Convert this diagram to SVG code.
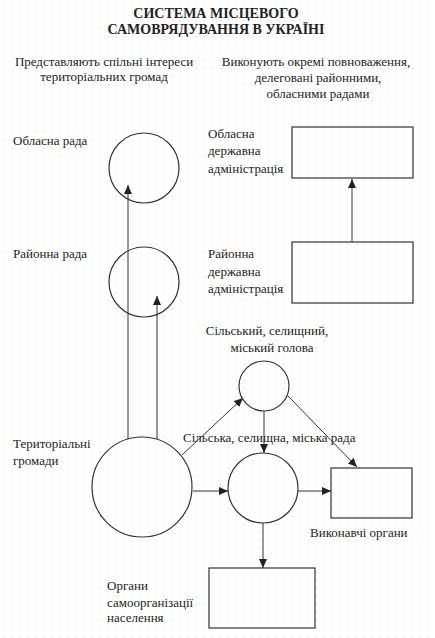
<svg xmlns="http://www.w3.org/2000/svg" width="435" height="638" viewBox="0 0 435 638">
<style>
text{font-family:"Liberation Serif","DejaVu Serif",serif;font-size:13px;fill:#222}
.t{font-weight:bold;font-size:14px;text-anchor:middle}
.m{text-anchor:middle}
.s{fill:none;stroke:#333;stroke-width:1.2}
.c{fill:none;stroke:#333;stroke-width:1}
</style>
<defs>
<pattern id="dots" width="8" height="8" patternUnits="userSpaceOnUse">
<rect x="4" y="4" width="1" height="1" fill="#d4d4d4"/>
</pattern>
<marker id="ah" markerWidth="10" markerHeight="8" refX="9" refY="4" orient="auto" markerUnits="userSpaceOnUse">
<path d="M0,0 L9,4 L0,8 Z" fill="#222"/>
</marker>
</defs>
<rect width="435" height="638" fill="#fff"/>
<rect width="435" height="638" fill="url(#dots)"/>

<g id="title">
<text class="t" x="216" y="18">СИСТЕМА МІСЦЕВОГО</text>
<text class="t" x="216" y="34">САМОВРЯДУВАННЯ В УКРАЇНІ</text>
</g>
<g id="header-left">
<text class="m" x="104" y="66">Представляють спільні інтереси</text>
<text class="m" x="104" y="81">територіальних громад</text>
</g>
<g id="header-right">
<text class="m" x="316" y="66">Виконують окремі повноваження,</text>
<text class="m" x="318" y="82">делеговані районними,</text>
<text class="m" x="318" y="98">обласними радами</text>
</g>

<g id="oblasna-rada">
<circle class="s" cx="144" cy="168" r="35"/>
<text x="13" y="145">Обласна рада</text>
</g>
<g id="raionna-rada">
<circle class="s" cx="144" cy="282" r="35"/>
<text x="13" y="258">Районна рада</text>
</g>
<g id="obl-admin">
<rect class="s" x="292" y="127" width="121" height="51"/>
<text x="208" y="138">Обласна</text>
<text x="208" y="155">державна</text>
<text x="208" y="173">адміністрація</text>
</g>
<g id="rai-admin">
<rect class="s" x="292" y="242" width="121" height="61"/>
<text x="208" y="258">Районна</text>
<text x="208" y="276">державна</text>
<text x="208" y="293">адміністрація</text>
</g>
<g id="holova">
<circle class="s" cx="264" cy="386" r="25"/>
<text class="m" x="267" y="335">Сільський, селищний,</text>
<text class="m" x="272" y="352">міський голова</text>
</g>
<g id="hromady">
<circle class="s" cx="142" cy="487" r="50"/>
<text x="13" y="448">Територіальні</text>
<text x="13" y="465">громади</text>
</g>
<g id="rada">
<circle class="s" cx="263" cy="488" r="35"/>
<text x="183" y="442">Сільська, селищна, міська рада</text>
</g>
<g id="vykonavchi">
<rect class="s" x="331" y="468" width="81" height="50"/>
<text x="310" y="537">Виконавчі органи</text>
</g>
<g id="samoorg">
<rect class="s" x="209" y="568" width="106" height="60"/>
<text x="107" y="590">Органи</text>
<text x="107" y="607">самоорганізації</text>
<text x="107" y="622">населення</text>
</g>

<g id="connectors">
<line class="c" x1="128" y1="439" x2="128" y2="185" marker-end="url(#ah)"/>
<line class="c" x1="157" y1="439" x2="157" y2="296" marker-end="url(#ah)"/>
<line class="c" x1="352" y1="242" x2="352" y2="179" marker-end="url(#ah)"/>
<line class="c" x1="182" y1="455" x2="243" y2="398" marker-end="url(#ah)"/>
<line class="c" x1="264" y1="411" x2="264" y2="453" marker-end="url(#ah)"/>
<line class="c" x1="288" y1="396" x2="357" y2="467" marker-end="url(#ah)"/>
<line class="c" x1="193" y1="491" x2="228" y2="491" marker-end="url(#ah)"/>
<line class="c" x1="298" y1="491" x2="331" y2="491" marker-end="url(#ah)"/>
<line class="c" x1="263" y1="523" x2="263" y2="568" marker-end="url(#ah)"/>
</g>
</svg>
